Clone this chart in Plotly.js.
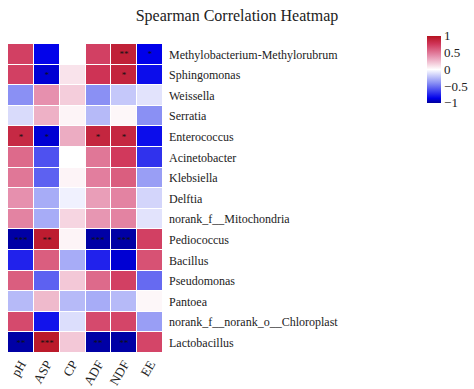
<!DOCTYPE html>
<html><head><meta charset="utf-8">
<script src="https://cdn.plot.ly/plotly-3.0.1.min.js"></script>
<style>body{margin:0;background:#fff}#c{width:474px;height:389px}</style>
</head><body><div id="c"></div>
<script>
const variables = ["pH","ASP","CP","ADF","NDF","EE"];
const genera = ["Methylobacterium-Methylorubrum","Sphingomonas","Weissella","Serratia","Enterococcus","Acinetobacter","Klebsiella","Delftia","norank_f__Mitochondria","Pediococcus","Bacillus","Pseudomonas","Pantoea","norank_f__norank_o__Chloroplast","Lactobacillus"];
const rho = [
 [0.72,-0.85,0.0,0.72,0.9,-0.86],
 [0.72,-0.9,0.1,0.78,0.88,-0.82],
 [-0.4,0.4,0.18,-0.4,-0.2,-0.1],
 [-0.13,0.28,0.04,-0.25,0.03,-0.4],
 [0.85,-0.9,0.3,0.87,0.86,-0.82],
 [0.55,-0.6,0.0,0.5,0.75,-0.7],
 [0.5,-0.55,0.04,0.47,0.6,-0.35],
 [0.4,-0.3,-0.05,0.35,0.45,-0.15],
 [0.45,-0.3,0.15,0.38,0.45,-0.1],
 [-0.98,0.93,0.04,-0.98,-0.98,0.72],
 [-0.75,0.6,-0.3,-0.75,-0.9,0.65],
 [0.6,-0.55,0.2,0.55,0.72,-0.52],
 [-0.25,0.25,-0.25,-0.3,-0.25,0.03],
 [0.68,-0.8,-0.12,0.68,0.7,-0.35],
 [-0.98,0.95,0.2,-0.98,-0.98,0.7]
];
const stars = [
 ["","","","","**","*"],
 ["","*","","","*",""],
 ["","","","","",""],
 ["","","","","",""],
 ["*","*","","*","*",""],
 ["","","","","",""],
 ["","","","","",""],
 ["","","","","",""],
 ["","","","","",""],
 ["***","**","","***","***",""],
 ["","","","","",""],
 ["","","","","",""],
 ["","","","","",""],
 ["","","","","",""],
 ["**","***","","**","**",""]
];
const ticks = [-1,-0.5,0,0.5,1];
const tickText = ["−1","−0.5","0","0.5","1"];

const data = [{
  type:'heatmap', x:variables, y:genera, z:rho, zmin:-1, zmax:1,
  text:stars, texttemplate:'%{text}', textfont:{family:'Liberation Serif',size:9,color:'#111'},
  xgap:1, ygap:1,
  colorscale:[[0,'#00009a'],[0.07,'#0000ea'],[0.3,'#8a90f4'],[0.5,'#ffffff'],[0.7,'#e690ae'],[0.88,'#d0365a'],[1,'#b5121f']],
  colorbar:{thickness:14, lenmode:'pixels', len:67, xref:'container', yref:'container',
    x:427/474, xanchor:'left', y:1-45/389, yanchor:'top', outlinewidth:0,
    tickvals:ticks, ticktext:tickText, ticks:'', ticklen:0, xpad:0, ypad:0,
    tickfont:{family:'Liberation Serif',size:13,color:'#222'}}
}];
const layout = {
  width:474, height:389,
  margin:{l:8,r:311,t:44,b:36},
  paper_bgcolor:'#fff', plot_bgcolor:'#fff',
  title:{text:'Spearman Correlation Heatmap', x:0.5, xref:'container', y:1-15/389, yref:'container', yanchor:'middle',
    font:{family:'Liberation Serif',size:16,color:'#222'}},
  xaxis:{tickangle:-60, tickfont:{family:'Liberation Serif',size:13,color:'#222'}, showgrid:false, zeroline:false, ticks:''},
  yaxis:{side:'right', autorange:'reversed', tickfont:{family:'Liberation Serif',size:12,color:'#222'}, showgrid:false, zeroline:false, ticks:'', ticklabelstandoff:5}
};
Plotly.newPlot('c', data, layout, {staticPlot:true});
</script></body></html>
